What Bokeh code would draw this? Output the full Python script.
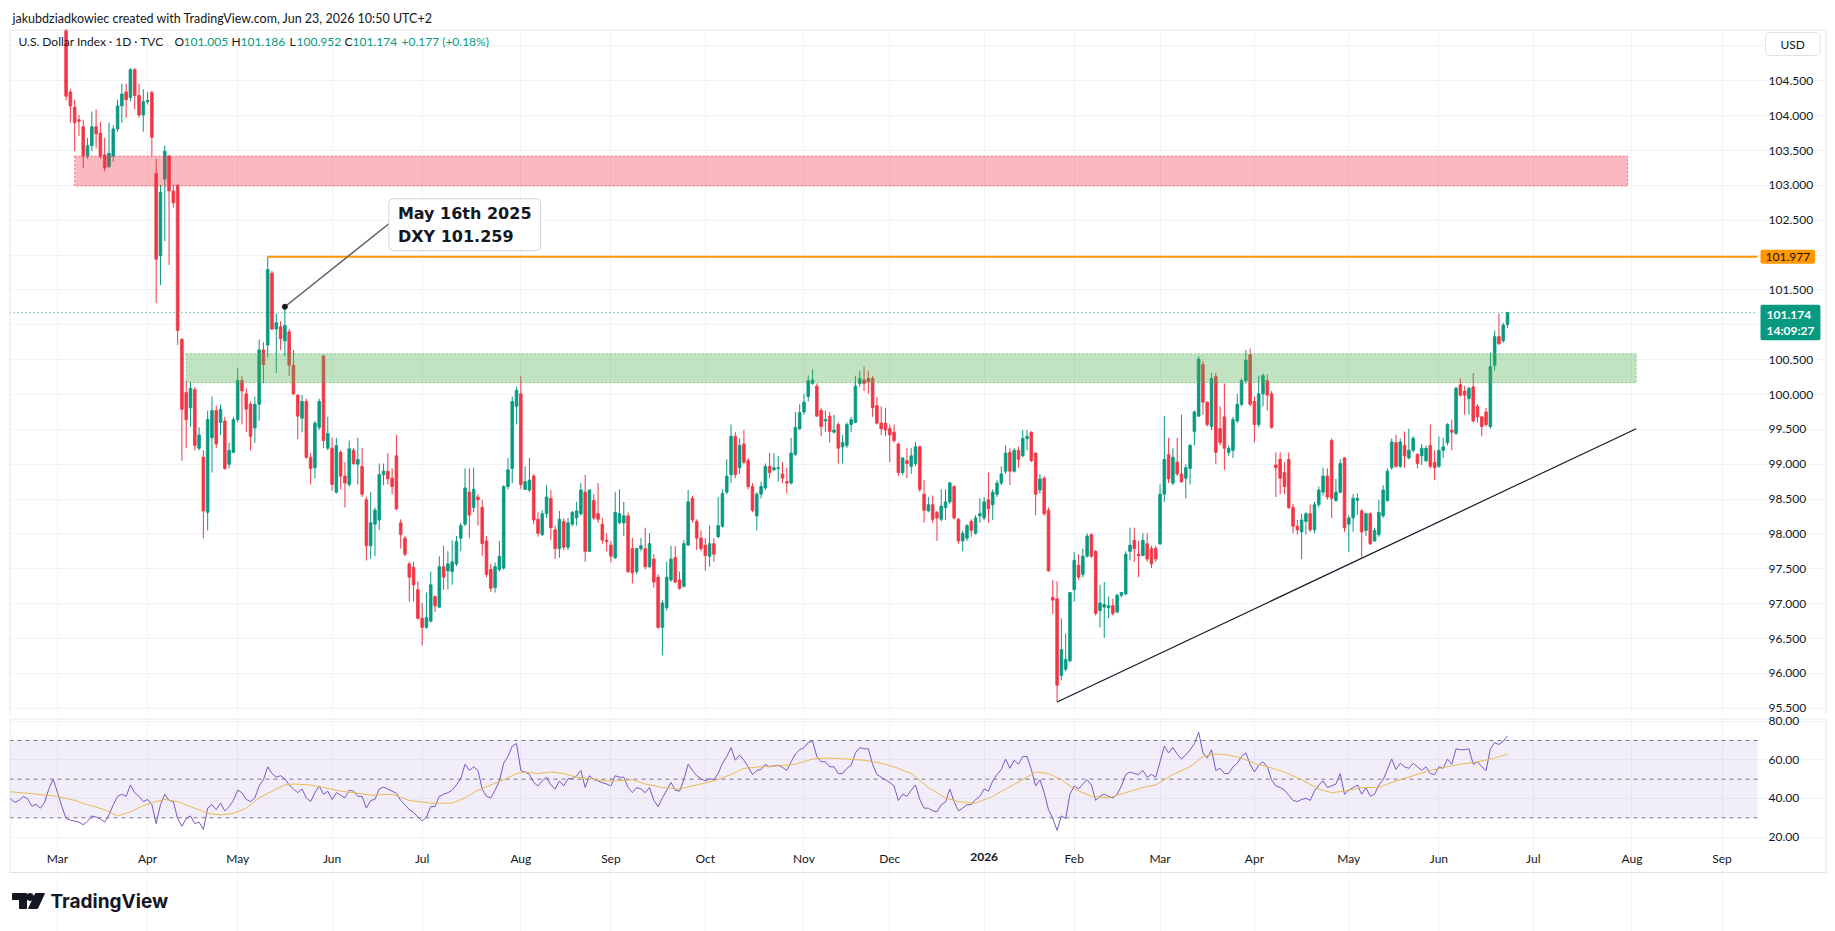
import pandas as pd
from bokeh.plotting import figure
from bokeh.layouts import column
from bokeh.models import (ColumnDataSource, Range1d, FixedTicker, NumeralTickFormatter,
                          Span, Label, BoxAnnotation, Grid)
from bokeh.embed import file_html
from bokeh.resources import INLINE

# ---------------------------------------------------------------- data
HOLIDAYS = ["2025-04-18", "2025-12-25", "2026-01-01"]
CANDLE_START = "2025-03-05"     # first visible daily candle
RSI_START = "2025-02-14"        # first visible RSI value

opens = [
    105.45, 104.34, 104.12, 103.94, 103.84, 103.42, 103.57, 103.84, 103.75, 103.44,
    103.27, 103.42, 103.81, 104.14, 104.34, 104.26, 104.66, 104.29, 104.01, 104.20,
    104.33, 103.17, 101.99, 103.09, 103.42, 102.92, 103.00, 100.79, 100.03, 99.81,
    100.07, 99.23, 99.10, 98.31, 99.38, 99.77, 99.60, 99.62, 99.00, 99.17,
    99.64, 100.20, 100.01, 99.86, 99.52, 99.86, 100.64, 100.71, 101.74, 100.94,
    100.97, 100.77, 100.90, 100.42, 99.99, 99.66, 99.90, 99.10, 98.95, 99.53,
    100.55, 99.23, 99.23, 98.60, 99.17, 98.83, 98.71, 99.20, 99.00, 98.97,
    98.49, 97.83, 98.14, 98.20, 98.85, 98.90, 98.80, 99.12, 98.16, 97.94,
    97.57, 97.52, 97.20, 96.79, 96.66, 96.75, 97.10, 96.95, 97.53, 97.47,
    97.46, 97.57, 97.94, 98.14, 98.60, 98.38, 98.53, 98.38, 97.90, 97.49,
    97.23, 97.49, 97.51, 98.68, 98.94, 99.83, 100.01, 98.64, 98.63, 98.83,
    98.21, 97.99, 98.29, 98.51, 98.06, 97.79, 98.18, 97.81, 98.14, 98.23,
    98.29, 98.60, 97.75, 98.48, 98.29, 98.14, 97.91, 97.84, 97.66, 98.16,
    98.16, 98.26, 97.79, 97.46, 97.79, 97.79, 97.53, 97.64, 97.38, 96.66,
    96.94, 97.34, 97.66, 97.34, 97.25, 97.84, 98.51, 98.18, 97.94, 97.84,
    97.68, 97.86, 97.96, 98.11, 98.60, 98.85, 99.40, 98.95, 99.29, 99.05,
    98.68, 98.26, 98.57, 98.66, 98.97, 98.92, 98.94, 98.86, 98.75, 98.73,
    99.14, 99.51, 99.75, 99.97, 100.16, 100.12, 99.77, 99.62, 99.69, 99.46,
    99.57, 99.25, 99.27, 99.57, 99.60, 100.16, 100.21, 100.23, 100.23, 99.84,
    99.59, 99.59, 99.51, 99.46, 99.29, 98.88, 99.05, 98.97, 99.01, 99.25,
    98.57, 98.33, 98.42, 98.31, 98.21, 98.38, 98.46, 98.68, 98.21, 97.90,
    97.94, 98.18, 98.01, 98.26, 98.23, 98.49, 98.42, 98.57, 98.73, 98.90,
    99.17, 98.90, 99.20, 99.12, 99.37, 99.46, 99.16, 98.63, 98.80, 98.34,
    97.09, 97.07, 95.97, 96.06, 96.18, 97.20, 97.55, 97.42, 97.68, 97.99,
    97.75, 96.90, 96.95, 96.94, 96.97, 96.88, 97.12, 97.14, 97.75, 97.91,
    97.71, 97.69, 97.86, 97.79, 97.79, 97.86, 98.57, 99.14, 98.73, 99.03,
    98.86, 98.80, 98.94, 99.47, 99.69, 100.43, 99.89, 99.54, 100.26, 99.51,
    99.68, 99.17, 99.20, 99.62, 99.86, 100.20, 100.57, 99.90, 99.57, 100.01,
    100.20, 100.01, 98.99, 99.07, 98.88, 99.07, 98.38, 98.11, 98.03, 98.18,
    98.29, 98.06, 98.42, 98.60, 98.83, 99.34, 98.48, 98.60, 99.09, 98.14,
    98.23, 98.48, 98.33, 98.05, 98.29, 97.90, 97.99, 98.26, 98.48, 98.95,
    99.31, 98.97, 99.27, 99.09, 99.20, 99.14, 99.12, 99.05, 99.27, 99.03,
    98.97, 99.20, 99.31, 99.49, 99.44, 100.14, 100.05, 99.94, 100.11, 99.83,
    99.68, 99.75, 99.54, 100.42, 100.83, 100.77, 101.005,
]
highs = [
    105.55, 104.38, 104.23, 104.01, 103.94, 103.68, 104.06, 104.09, 103.91, 103.68,
    103.90, 103.86, 104.23, 104.46, 104.46, 104.68, 104.68, 104.46, 104.38, 104.34,
    104.36, 103.38, 103.01, 103.57, 103.44, 103.01, 103.02, 100.81, 100.20, 100.18,
    100.11, 99.53, 99.20, 99.77, 99.97, 99.84, 99.86, 99.68, 99.31, 99.68,
    100.38, 100.27, 100.09, 99.90, 99.97, 100.79, 100.75, 101.977, 101.77, 101.16,
    101.05, 101.259, 100.94, 100.64, 100.01, 99.99, 99.94, 99.16, 99.62, 99.94,
    100.57, 99.68, 99.38, 99.38, 99.20, 99.03, 99.34, 99.23, 99.38, 99.23,
    98.53, 98.60, 98.38, 99.01, 99.01, 99.16, 98.94, 99.42, 98.21, 97.97,
    97.60, 97.60, 97.32, 97.01, 97.16, 97.46, 97.12, 97.68, 97.83, 97.75,
    97.91, 97.97, 98.16, 98.94, 98.94, 98.95, 98.57, 98.49, 97.97, 97.57,
    97.59, 97.90, 98.70, 99.09, 99.97, 100.11, 100.27, 98.97, 99.09, 98.86,
    98.31, 98.34, 98.70, 98.63, 98.12, 98.33, 98.23, 98.23, 98.33, 98.46,
    98.73, 98.85, 98.64, 98.57, 98.73, 98.23, 98.01, 97.90, 98.60, 98.64,
    98.46, 98.31, 97.94, 97.80, 97.94, 98.09, 98.01, 97.71, 97.42, 97.05,
    97.60, 97.83, 97.83, 97.46, 97.91, 98.63, 98.55, 98.21, 98.05, 97.94,
    98.12, 97.94, 98.53, 98.64, 99.07, 99.57, 99.46, 99.37, 99.49, 99.09,
    98.73, 98.60, 98.75, 99.01, 99.16, 99.16, 99.12, 99.03, 98.95, 99.38,
    99.75, 99.86, 100.01, 100.27, 100.36, 100.16, 99.81, 99.77, 99.75, 99.71,
    99.60, 99.42, 99.60, 99.68, 100.27, 100.34, 100.40, 100.34, 100.27, 99.97,
    99.83, 99.81, 99.57, 99.57, 99.31, 99.10, 99.23, 99.23, 99.32, 99.27,
    98.77, 98.53, 98.55, 98.33, 98.64, 98.64, 98.75, 98.70, 98.23, 98.05,
    98.14, 98.21, 98.27, 98.51, 98.53, 98.88, 98.64, 98.77, 98.97, 99.27,
    99.23, 99.23, 99.25, 99.49, 99.49, 99.47, 99.17, 98.86, 98.83, 98.38,
    97.34, 97.32, 96.79, 96.57, 97.17, 97.74, 97.71, 97.79, 98.01, 98.01,
    97.77, 97.27, 97.31, 97.10, 97.07, 97.14, 97.17, 97.75, 98.09, 98.09,
    97.90, 98.01, 98.01, 97.83, 97.83, 98.71, 99.69, 99.38, 99.23, 99.38,
    99.71, 99.00, 99.29, 99.77, 100.55, 100.48, 99.90, 100.31, 100.31, 99.83,
    100.16, 99.27, 99.68, 100.01, 100.23, 100.64, 100.66, 99.97, 100.27, 100.30,
    100.29, 100.05, 99.17, 99.17, 99.03, 99.17, 98.43, 98.20, 98.29, 98.31,
    98.42, 98.46, 98.68, 98.95, 98.94, 99.37, 98.79, 99.07, 99.10, 98.27,
    98.57, 98.58, 98.36, 98.31, 98.31, 98.09, 98.49, 98.70, 98.94, 99.37,
    99.42, 99.37, 99.47, 99.51, 99.40, 99.16, 99.29, 99.27, 99.57, 99.20,
    99.40, 99.38, 99.59, 99.64, 100.11, 100.23, 100.12, 100.11, 100.31, 99.86,
    99.69, 99.81, 100.60, 100.92, 101.16, 101.03, 101.186,
]
lows = [
    104.22, 103.90, 103.49, 103.71, 103.25, 103.38, 103.49, 103.53, 103.38, 103.20,
    103.25, 103.34, 103.77, 103.90, 103.97, 104.21, 104.09, 103.97, 103.77, 104.16,
    103.42, 101.31, 101.57, 102.20, 101.86, 102.68, 100.71, 99.05, 99.23, 99.54,
    99.20, 99.20, 97.94, 98.05, 98.88, 99.23, 99.42, 98.92, 98.94, 99.16,
    99.60, 99.57, 99.46, 99.20, 99.31, 99.62, 100.16, 100.53, 100.92, 100.31,
    100.64, 100.55, 100.27, 99.99, 99.36, 99.46, 99.08, 98.71, 98.80, 99.49,
    99.23, 99.20, 98.62, 98.58, 98.64, 98.38, 98.68, 98.99, 98.71, 98.53,
    97.62, 97.64, 97.68, 98.06, 98.70, 98.71, 98.57, 98.34, 97.79, 97.68,
    97.03, 97.03, 96.77, 96.40, 96.64, 96.73, 96.88, 96.94, 97.20, 97.20,
    97.27, 97.54, 97.75, 98.11, 97.94, 98.31, 98.12, 97.68, 97.38, 97.17,
    97.16, 97.46, 97.49, 98.64, 98.73, 99.57, 98.64, 98.63, 98.60, 98.14,
    97.96, 97.97, 98.23, 97.91, 97.64, 97.66, 97.77, 97.77, 98.11, 98.12,
    98.26, 97.60, 97.74, 98.20, 98.16, 97.86, 97.75, 97.59, 97.64, 98.14,
    97.97, 97.44, 97.29, 97.42, 97.75, 97.49, 97.51, 97.23, 96.64, 96.26,
    96.90, 97.31, 97.29, 97.20, 97.23, 97.83, 98.16, 97.77, 97.75, 97.47,
    97.53, 97.60, 97.94, 98.09, 98.57, 98.73, 98.80, 98.86, 99.00, 98.64,
    98.31, 98.05, 98.51, 98.63, 98.80, 98.90, 98.75, 98.73, 98.58, 98.71,
    99.12, 99.49, 99.71, 99.90, 100.14, 99.68, 99.40, 99.46, 99.31, 99.44,
    99.01, 99.01, 99.23, 99.46, 99.59, 100.11, 100.05, 100.01, 99.68, 99.57,
    99.42, 99.40, 99.03, 99.31, 98.83, 98.85, 98.80, 98.86, 98.97, 98.60,
    98.16, 98.31, 98.16, 97.90, 98.18, 98.20, 98.43, 98.21, 97.86, 97.75,
    97.90, 97.96, 97.99, 98.16, 98.20, 98.16, 98.20, 98.53, 98.70, 98.86,
    98.70, 98.88, 98.95, 99.10, 99.20, 99.03, 98.27, 98.58, 98.26, 97.46,
    96.85, 95.59, 95.90, 96.03, 96.16, 97.03, 97.34, 97.38, 97.66, 97.66,
    96.83, 96.66, 96.51, 96.79, 96.83, 96.86, 97.09, 97.12, 97.62, 97.60,
    97.38, 97.68, 97.60, 97.51, 97.60, 97.84, 98.46, 98.73, 98.70, 98.83,
    98.73, 98.51, 98.71, 99.27, 99.68, 99.71, 99.54, 99.49, 99.00, 99.27,
    98.92, 99.12, 99.09, 99.59, 99.83, 100.16, 99.83, 99.31, 99.53, 99.83,
    99.77, 99.51, 98.53, 98.57, 98.57, 98.36, 98.01, 97.99, 97.64, 97.99,
    98.03, 98.01, 98.38, 98.55, 98.49, 98.23, 98.46, 98.58, 98.03, 97.74,
    98.03, 98.27, 97.66, 97.97, 97.84, 97.89, 97.96, 98.23, 98.46, 98.92,
    98.95, 98.95, 98.95, 99.07, 99.17, 98.94, 98.99, 99.03, 98.94, 98.77,
    98.95, 99.09, 99.27, 99.20, 99.42, 99.97, 99.71, 99.71, 99.60, 99.60,
    99.40, 99.54, 99.51, 100.34, 100.71, 100.74, 100.952,
]
closes = [
    104.28, 104.14, 103.90, 103.92, 103.42, 103.57, 103.84, 103.74, 103.42, 103.25,
    103.46, 103.81, 104.14, 104.31, 104.23, 104.66, 104.29, 104.01, 104.20, 104.22,
    103.69, 101.94, 102.90, 103.49, 102.92, 102.75, 100.92, 99.79, 99.64, 100.09,
    99.27, 99.42, 98.33, 99.64, 99.77, 99.29, 99.79, 98.94, 99.20, 99.64,
    100.20, 100.05, 99.79, 99.40, 99.86, 100.64, 100.43, 101.79, 100.94, 101.03,
    100.80, 100.99, 100.42, 100.01, 99.69, 99.90, 99.10, 98.94, 99.59, 99.90,
    99.34, 99.44, 98.71, 99.27, 98.83, 98.73, 99.22, 99.01, 99.07, 98.57,
    97.83, 98.16, 98.34, 98.85, 98.90, 98.79, 98.68, 98.36, 97.99, 97.71,
    97.38, 97.27, 96.79, 96.66, 96.80, 97.27, 96.97, 97.53, 97.38, 97.57,
    97.60, 97.89, 98.12, 98.66, 98.27, 98.64, 98.49, 97.86, 97.42, 97.22,
    97.53, 97.68, 98.68, 98.92, 99.90, 100.06, 98.71, 98.75, 98.77, 98.20,
    98.01, 98.29, 98.53, 98.09, 97.79, 98.21, 97.81, 98.16, 98.31, 98.33,
    98.63, 97.75, 98.63, 98.23, 98.21, 97.91, 97.89, 97.68, 98.31, 98.29,
    98.26, 97.46, 97.44, 97.79, 97.83, 97.53, 97.86, 97.31, 96.66, 97.01,
    97.38, 97.64, 97.31, 97.22, 97.86, 98.46, 98.20, 97.94, 97.79, 97.69,
    97.86, 97.71, 98.12, 98.58, 98.83, 99.40, 98.85, 99.27, 99.03, 98.68,
    98.34, 98.57, 98.68, 98.97, 98.88, 98.95, 98.95, 98.80, 98.73, 99.16,
    99.53, 99.74, 99.89, 100.20, 100.21, 99.69, 99.54, 99.64, 99.47, 99.49,
    99.23, 99.31, 99.57, 99.64, 100.12, 100.23, 100.16, 100.18, 99.81, 99.59,
    99.51, 99.49, 99.42, 99.34, 98.88, 99.09, 99.01, 99.12, 99.25, 98.64,
    98.34, 98.42, 98.21, 98.23, 98.40, 98.46, 98.73, 98.23, 97.90, 98.01,
    98.12, 98.05, 98.23, 98.29, 98.46, 98.36, 98.60, 98.73, 98.86, 99.16,
    98.90, 99.20, 99.07, 99.37, 99.40, 99.05, 98.57, 98.79, 98.29, 97.47,
    97.05, 95.83, 96.34, 96.20, 97.16, 97.62, 97.38, 97.68, 97.97, 97.68,
    96.86, 97.01, 96.99, 96.97, 96.86, 97.12, 97.16, 97.71, 97.84, 97.79,
    97.69, 97.91, 97.64, 97.57, 97.64, 98.57, 99.07, 98.79, 99.10, 98.86,
    98.75, 98.95, 99.27, 99.75, 100.51, 99.89, 99.57, 100.23, 99.17, 99.31,
    99.23, 99.23, 99.64, 99.86, 100.20, 100.49, 99.86, 99.57, 100.01, 100.27,
    99.99, 99.53, 98.95, 98.80, 98.68, 98.38, 98.11, 98.06, 98.20, 98.29,
    98.06, 98.42, 98.63, 98.83, 98.53, 98.51, 98.60, 99.01, 98.09, 98.23,
    98.51, 98.51, 98.03, 98.29, 97.86, 98.05, 98.31, 98.63, 98.90, 99.32,
    98.97, 99.32, 99.12, 99.20, 99.37, 99.01, 99.23, 99.23, 98.97, 98.95,
    99.20, 99.25, 99.57, 99.46, 100.09, 99.99, 99.99, 100.09, 99.62, 99.68,
    99.54, 99.57, 100.40, 100.83, 100.73, 100.997, 101.174,
]

rsi = [
    40, 38, 39, 41, 40, 36, 37, 35, 38, 45, 50, 43, 36,
    29.6, 28.8, 28.3, 27.8, 26.4, 28.3, 31.0, 30.4, 29.4, 27.8, 31.5, 36.8, 41.1, 42.2,
    41.1, 47.0, 43.0, 41.1, 38.4, 39.5, 36.8, 27.0, 36.8, 42.2, 39.0, 38.4, 29.6, 25.6,
    29.6, 31.0, 27.0, 27.8, 24.0, 35.0, 36.8, 34.2, 37.6, 33.6, 35.8, 39.0, 44.3, 43.0,
    39.5, 38.4, 40.3, 46.5, 49.7, 56.4, 52.9, 51.0, 51.8, 50.2, 47.0, 44.9, 43.0, 44.9,
    40.3, 38.4, 43.0, 46.5, 42.2, 43.8, 39.5, 43.0, 41.7, 40.3, 44.3, 43.8,
    41.1, 41.1, 35.0, 39.0, 39.5, 44.9, 45.9, 44.9, 43.8, 42.7, 39.0, 36.8, 34.2, 32.8,
    30.4, 28.3, 30.4, 35.8, 35.8, 41.1, 42.2, 43.0, 44.3, 47.0, 50.2, 57.7, 54.5, 56.4,
    54.5, 44.9, 41.1, 40.3, 44.3, 49.1, 58.2, 61.7, 67.1, 68.4, 54.5, 53.7, 52.4, 48.3,
    46.5, 49.1, 51.0, 47.0, 44.9, 49.1, 46.5, 50.2, 50.2, 51.8, 54.5, 45.7, 51.8, 49.7,
    49.1, 48.1, 47.5, 46.5, 51.8, 51.0, 51.0, 45.7, 43.0, 45.7, 44.9, 43.0, 45.7,
    39.0, 35.8, 40.3, 44.3, 48.3, 44.3, 43.8, 49.7, 57.7, 54.5, 51.8, 50.2, 49.1, 50.2,
    49.7, 52.9, 58.2, 61.7, 66.3, 59.8, 62.5, 59.8, 56.4, 52.4, 54.5, 55.0, 57.7, 56.4,
    56.9, 57.2, 56.1, 54.5, 59.0, 63.0, 65.2, 66.3, 68.9, 69.7, 61.7, 59.0, 59.0, 56.4,
    56.4, 52.9, 52.9, 55.6, 57.2, 63.6, 66.3, 65.7, 65.7, 57.7, 52.4, 51.0, 49.7, 48.3,
    46.5, 39.0, 42.2, 41.1, 44.3, 47.0, 39.5, 35.0, 35.0, 33.6, 33.1, 36.8, 38.2,
    44.9, 38.4, 33.6, 35.0, 36.8, 36.8, 39.5, 41.1, 44.9, 43.8, 49.1, 52.4, 55.0, 60.4,
    55.6, 59.8, 57.7, 61.7, 61.7, 55.0, 46.5, 49.7, 43.0, 34.2, 29.6, 23.5, 31.0, 29.6,
    42.2, 46.5, 44.9, 47.5, 49.7, 47.0, 39.0, 41.1, 42.2, 41.1, 40.3, 42.2, 46.5, 52.4,
    53.7, 52.9, 52.4, 54.5, 51.0, 52.4, 51.0, 59.0, 67.1, 63.6, 66.3, 63.0, 60.4, 62.5,
    65.2, 68.4, 74.3, 63.6, 60.9, 65.2, 54.5, 55.6, 52.9, 52.9, 56.4, 58.2,
    61.7, 63.6, 57.7, 53.7, 57.2, 59.0, 56.4, 49.7, 46.5, 45.7, 44.3, 41.7, 39.0, 38.4,
    39.5, 40.1, 39.0, 43.8, 47.0, 49.1, 45.7, 46.5, 47.5, 52.9, 42.2, 44.3, 45.7, 47.0,
    42.2, 45.7, 41.1, 42.2, 47.0, 49.7, 55.0, 60.4, 55.0, 58.2, 56.4, 55.6, 58.2, 56.4,
    54.5, 56.4, 52.9, 52.4, 56.4, 55.6, 60.4, 57.7, 65.7, 65.2, 65.2, 65.7, 57.7, 59.0,
    56.4, 54.5, 65.7, 68.9, 67.9, 69.7, 72.4,
]

# RSI-based moving average (yellow), read at these trading-day numbers (0 = 2025-03-03)
rsi_ma_bar = [-11, -6, 0, 4, 7, 11, 14, 17, 20, 23, 25, 28, 32, 35, 38, 41, 44, 47, 50, 53,
              55, 59, 62, 66, 69, 73, 78, 82, 87, 92, 95, 98, 101, 104, 107, 109, 112, 115,
              118, 121, 124, 127, 130, 134, 137, 141, 145, 149, 153, 157, 160, 164, 168,
              172, 176, 180, 184, 188, 192, 195, 199, 203, 207, 210, 214, 218, 221, 225,
              228, 231, 234, 237, 241, 245, 249, 253, 256, 260, 264, 267, 270, 273, 276,
              279, 282, 286, 290, 294, 297, 300, 304, 308, 312, 316, 320, 324, 327, 331,
              335, 338]
rsi_ma = [43.5, 42.5, 41.1, 39.0, 36.8, 34.2, 31.0, 33.1, 36.3, 38.4, 39.5, 38.4, 35.0, 32.3,
          31.5, 32.3, 35.0, 40.3, 43.8, 47.0, 47.5, 47.0, 45.7, 43.8, 43.0, 41.7, 42.2, 39.0,
          37.6, 37.6, 40.3, 44.3, 47.0, 49.7, 52.9, 53.7, 52.9, 53.7, 52.9, 51.0, 50.2, 49.1,
          49.1, 49.7, 47.5, 45.7, 44.9, 47.0, 49.1, 52.4, 55.6, 56.4, 56.9, 57.7, 60.4, 60.9,
          60.4, 59.8, 58.2, 56.4, 52.9, 45.7, 40.3, 38.4, 37.6, 41.1, 44.9, 49.7, 53.7, 52.9,
          49.7, 44.9, 41.1, 40.3, 43.0, 45.7, 47.0, 52.4, 56.4, 61.7, 63.0, 62.5, 60.9, 58.2,
          56.4, 53.7, 49.7, 44.9, 43.0, 43.8, 45.7, 45.7, 49.1, 51.8, 54.5, 56.4, 57.7, 59.0,
          60.9, 63.0]

# price-scale labels shown (101.000 / 102.000 sit under the value tags in the original)
price_ticks = [95.5, 96.0, 96.5, 97.0, 97.5, 98.0, 98.5, 99.0, 99.5, 100.0,
               100.5, 101.5, 102.5, 103.0, 103.5, 104.0, 104.5]
price_grid = [95.5, 96.0, 96.5, 97.0, 97.5, 98.0, 98.5, 99.0, 99.5, 100.0, 100.5,
              101.0, 101.5, 102.0, 102.5, 103.0, 103.5, 104.0, 104.5, 105.0]
rsi_ticks = [20, 40, 60, 80]
rsi_levels = [70, 50, 30]

supply_zone = [102.99, 103.42]
supply_dates = ["2025-03-07", "2026-07-31"]
demand_zone = [100.17, 100.585]
demand_dates = ["2025-04-14", "2026-08-04"]
resistance_date = "2025-05-12"
resistance = 101.977
trend_dates = ["2026-01-27", "2026-08-04"]
trend_prices = [95.59, 99.51]
callout_date = "2025-05-16"
callout_price = 101.259
callout_text = "May 16th 2025\nDXY 101.259"
countdown = "14:09:27"

header_text = "jakubdziadkowiec created with TradingView.com, Jun 23, 2026 10:50 UTC+2"
legend_parts = ["U.S. Dollar Index · 1D · TVC", "O", "101.005", "H", "101.186",
                "L", "100.952", "C", "101.174", "+0.177 (+0.18%)"]
brand = "TradingView"

# ---------------------------------------------------------------- style / layout
UP, DOWN = "#089981", "#f23645"
TXT = "#131722"
GRID = "#f0f3fa"
BORDER = "#e0e3eb"
FONT = "Lato"
BAR_PX, PRICE_PX, RSI_PX = 4.29, 69.7, 1.933
W = 1835
X_LEFT, X_RIGHT, PANE_R = -11.19, 412.35, 396.27   # widget edges and price-pane edge (bars)

cal = pd.bdate_range("2025-02-03", "2026-09-30")
cal = cal[~cal.isin(pd.to_datetime(HOLIDAYS))]
ORIGIN = cal.get_loc(pd.Timestamp("2025-03-03"))


def bar(d):
    return int(cal.get_loc(pd.Timestamp(d))) - ORIGIN


months = pd.Series(cal[cal >= pd.Timestamp("2025-03-01")])
firsts = months.groupby([months.dt.year, months.dt.month]).first()
month_bars = [bar(d) for d in firsts]
month_labels = {b: ("" if d.month == 1 else d.strftime("%b")) for b, d in zip(month_bars, firsts)}
year_marks = [(b, str(d.year)) for b, d in zip(month_bars, firsts) if d.month == 1]

xr = Range1d(X_LEFT, X_RIGHT)


def style_axis(a, standoff):
    a.axis_line_color = None
    a.major_tick_line_color = None
    a.minor_tick_line_color = None
    a.major_tick_out = 0
    a.major_tick_in = 0
    a.major_label_standoff = standoff
    a.major_label_text_font = FONT
    a.major_label_text_font_size = "12px"
    a.major_label_text_color = TXT


# ---------------------------------------------------------------- price pane (y 29..714)
y1 = Range1d(95.41, 105.236)
p1 = figure(width=W, height=714, x_range=xr, y_range=y1,
            output_backend="svg", toolbar_location=None, title=header_text,
            x_axis_location=None, y_axis_location="right",
            min_border_left=9, min_border_right=9, min_border_top=29, min_border_bottom=0,
            outline_line_color=None, background_fill_color="white", border_fill_color="white")
p1.title.align = "left"
p1.title.offset = 3
p1.title.standoff = 8
p1.title.text_font = FONT
p1.title.text_font_size = "12.5px"
p1.title.text_font_style = "normal"
p1.title.text_color = TXT
for g in p1.grid:
    g.visible = False
p1.add_layout(Grid(dimension=0, ticker=FixedTicker(ticks=month_bars), grid_line_color=GRID))
p1.add_layout(Grid(dimension=1, ticker=FixedTicker(ticks=price_grid), grid_line_color=GRID,
                   bounds=(X_LEFT, PANE_R)))
for loc in (X_LEFT, X_RIGHT):
    p1.add_layout(Span(location=loc, dimension="height", line_color=BORDER, line_width=2))
p1.add_layout(Span(location=y1.end, dimension="width", line_color=BORDER, line_width=2))

ax = p1.yaxis[0]
ax.ticker = FixedTicker(ticks=price_ticks)
ax.formatter = NumeralTickFormatter(format="0.000")
style_axis(ax, -58)

n = min(len(opens), len(highs), len(lows), len(closes))
c0 = bar(CANDLE_START)
src = ColumnDataSource(dict(
    x=list(range(c0, c0 + n)),
    h=highs[:n], l=lows[:n],
    top=[max(opens[k], closes[k]) for k in range(n)],
    bottom=[min(opens[k], closes[k]) for k in range(n)],
    color=[UP if closes[k] >= opens[k] else DOWN for k in range(n)],
))
p1.segment(x0="x", y0="h", x1="x", y1="l", line_color="color", line_width=1, source=src)
p1.vbar(x="x", width=0.62, top="top", bottom="bottom", fill_color="color",
        line_color="color", line_width=0.8, source=src)

# zones (drawn over the candles, translucent)
p1.quad(left=[bar(supply_dates[0])], right=[bar(supply_dates[1])],
        bottom=[supply_zone[0]], top=[supply_zone[1]],
        fill_color="#f23645", fill_alpha=0.35, line_color="#f23645", line_alpha=0.6,
        line_dash="2 2", line_width=1)
p1.quad(left=[bar(demand_dates[0])], right=[bar(demand_dates[1])],
        bottom=[demand_zone[0]], top=[demand_zone[1]],
        fill_color="#4caf50", fill_alpha=0.35, line_color="#4caf50", line_alpha=0.6,
        line_dash="2 2", line_width=1)

p1.segment(x0=[bar(resistance_date)], y0=[resistance], x1=[PANE_R], y1=[resistance],
           line_color="#ff9800", line_width=2)
p1.segment(x0=[X_LEFT], y0=[closes[n - 1]], x1=[PANE_R], y1=[closes[n - 1]],
           line_color=UP, line_dash="1 3", line_width=1)
p1.line(x=[bar(d) for d in trend_dates], y=trend_prices, line_color=TXT, line_width=1.2)

cb = bar(callout_date)
p1.segment(x0=[cb], y0=[callout_price], x1=[cb + 104 / BAR_PX],
           y1=[callout_price + 83 / PRICE_PX], line_color="#5d606b", line_width=1.5)
p1.scatter(x=[cb], y=[callout_price], size=5, color=TXT)
p1.add_layout(Label(x=cb, y=callout_price, x_offset=104, y_offset=108, text=callout_text,
                    text_font="DejaVu Sans", text_font_style="bold", text_font_size="16px",
                    text_color=TXT, text_align="left", text_baseline="top",
                    text_line_height=1.2, background_fill_color="white",
                    border_line_color="#d1d4dc", border_line_width=1, padding=(9, 5),
                    border_radius=4))

# price-axis value tags
p1.add_layout(Label(x=1751, x_units="screen", y=resistance, text=f"{resistance:.3f}",
                    text_font=FONT, text_font_size="12px", text_color=TXT,
                    text_align="left", text_baseline="middle",
                    background_fill_color="#ff9800", padding=(5, 3), border_radius=2))
p1.add_layout(Label(x=1751, x_units="screen", y=closes[n - 1], y_offset=8,
                    text=f"{closes[n - 1]:.3f}\n{countdown}", text_font=FONT,
                    text_font_size="12px", text_font_style="bold", text_color="white",
                    text_align="left", text_baseline="top", text_line_height=1.1,
                    background_fill_color=UP, padding=(6, 2), border_radius=2))
p1.add_layout(Label(x=1756, x_units="screen", y=682, y_units="screen", text="USD",
                    text_font=FONT, text_font_size="12px", text_color=TXT,
                    text_align="left", text_baseline="top", background_fill_color="white",
                    border_line_color=BORDER, padding=(15, 4), border_radius=4))

# legend line
legend_x = [9, 165, 174, 222, 231, 280, 287, 335, 343, 392]
for k, (t, lx) in enumerate(zip(legend_parts, legend_x)):
    col = TXT if (k == 0 or len(t) == 1) else UP
    p1.add_layout(Label(x=lx, y=673, x_units="screen", y_units="screen", text=t,
                        text_font=FONT, text_font_size="12px", text_color=col,
                        text_baseline="middle"))

# ---------------------------------------------------------------- RSI pane + time scale (y 718..931)
RSI_TOP, RSI_BOTTOM, SCALE_BOTTOM = 81.38, 16.71, 1.71
y2 = Range1d(RSI_TOP - 213 / RSI_PX, RSI_TOP)
p2 = figure(width=W, height=217, x_range=xr, y_range=y2,
            output_backend="svg", toolbar_location=None, title=None,
            y_axis_location="right",
            min_border_left=9, min_border_right=9, min_border_top=4, min_border_bottom=0,
            outline_line_color=None, background_fill_color="white", border_fill_color="white")
for g in p2.grid:
    g.visible = False
p2.add_layout(Grid(dimension=0, ticker=FixedTicker(ticks=month_bars), grid_line_color=GRID,
                   bounds=(RSI_BOTTOM, RSI_TOP)))
p2.add_layout(Grid(dimension=1, ticker=FixedTicker(ticks=rsi_ticks), grid_line_color=GRID,
                   bounds=(X_LEFT, PANE_R)))
p2.add_layout(BoxAnnotation(bottom=min(rsi_levels), top=max(rsi_levels), right=PANE_R,
                            fill_color="#7e57c2", fill_alpha=0.1, line_color=None))
p2.segment(x0=[X_LEFT] * len(rsi_levels), y0=rsi_levels, x1=[PANE_R] * len(rsi_levels),
           y1=rsi_levels, line_color="#787b86", line_dash="4 4", line_width=1)
# widget border: pane separator, sides and bottom edge
p2.segment(x0=[X_LEFT, X_LEFT, X_LEFT + 0.12, X_RIGHT - 0.12],
           y0=[RSI_TOP - 0.25, SCALE_BOTTOM, SCALE_BOTTOM, SCALE_BOTTOM],
           x1=[X_RIGHT, X_RIGHT, X_LEFT + 0.12, X_RIGHT - 0.12],
           y1=[RSI_TOP - 0.25, SCALE_BOTTOM, RSI_TOP, RSI_TOP],
           line_color=BORDER, line_width=1)

r0 = bar(RSI_START)
p2.line(x=list(range(r0, r0 + len(rsi))), y=rsi, line_color="#7e57c2", line_width=1)
p2.line(x=rsi_ma_bar, y=rsi_ma, line_color="#f7c544", line_width=1)

ry = p2.yaxis[0]
ry.ticker = FixedTicker(ticks=rsi_ticks)
ry.formatter = NumeralTickFormatter(format="0.00")
style_axis(ry, -58)

xa = p2.xaxis[0]
xa.ticker = FixedTicker(ticks=month_bars)
xa.major_label_overrides = month_labels
style_axis(xa, -81)
for b, t in year_marks:
    p2.add_layout(Label(x=b, y=75, y_units="screen", text=t, text_font=FONT,
                        text_font_size="12px", text_font_style="bold", text_color=TXT,
                        text_align="center", text_baseline="middle"))


# TradingView brand mark (below the widget)
def bx(px):
    return X_LEFT + (px - 9) / BAR_PX


def by(py):
    return RSI_TOP - (py - 718) / RSI_PX


p2.patch(x=[bx(12), bx(26), bx(26), bx(19), bx(19), bx(12)],
         y=[by(893), by(893), by(908), by(908), by(899), by(899)], color=TXT)
p2.patch(x=[bx(35), bx(44), bx(37), bx(28)], y=[by(893), by(893), by(908), by(908)], color=TXT)
p2.scatter(x=[bx(29.5)], y=[by(896.5)], size=7, color=TXT)
p2.add_layout(Label(x=41, y=30, x_units="screen", y_units="screen", text=brand,
                    text_font="Inter", text_font_style="bold", text_font_size="19px",
                    text_color=TXT, text_baseline="middle"))

layout = column(p1, p2, spacing=0)
open("out.html", "w").write(file_html(layout, INLINE))
